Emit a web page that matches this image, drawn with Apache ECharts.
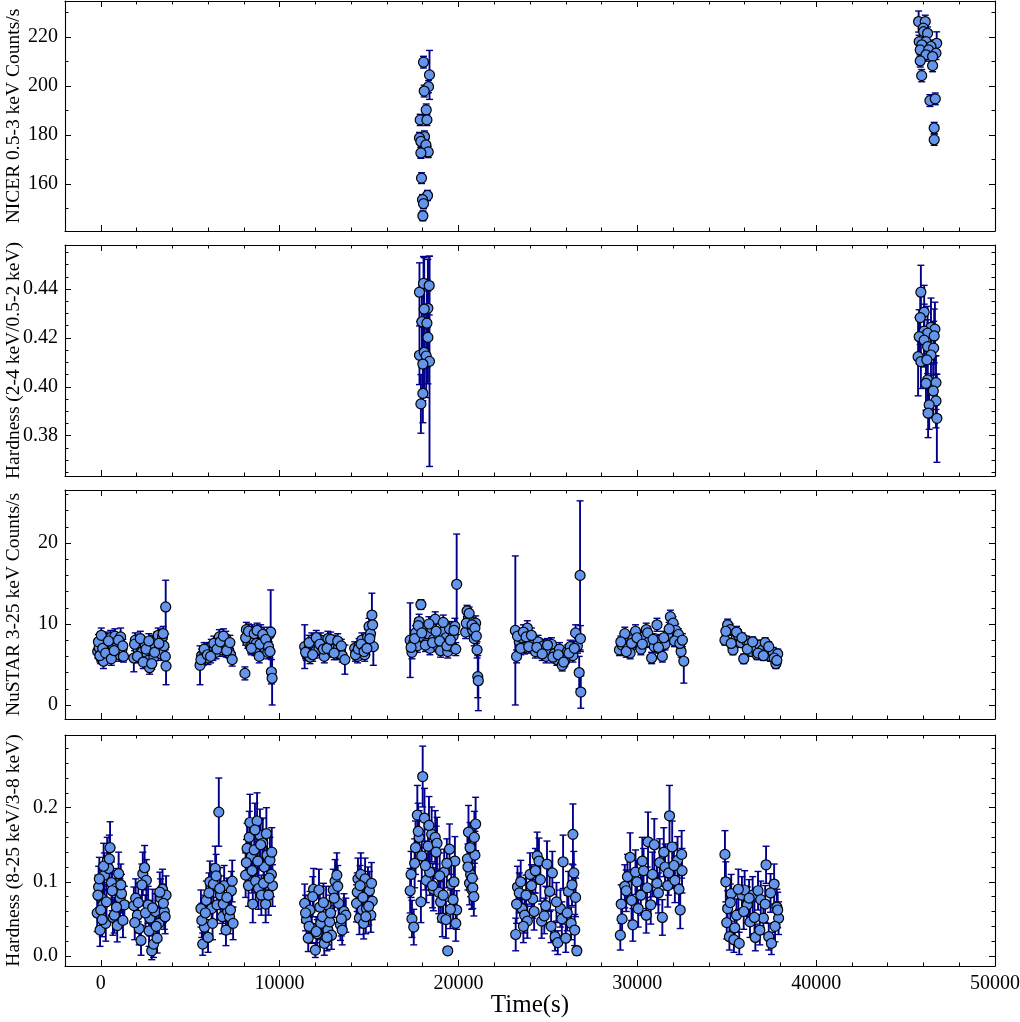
<!DOCTYPE html>
<html><head><meta charset="utf-8">
<script src="https://cdn.jsdelivr.net/npm/echarts@6/dist/echarts.min.js"></script>
<style>html,body{margin:0;padding:0;background:#fff}#c{width:1020px;height:1022px}</style>
</head><body><div id="c"></div>
<script>
// ---------------- DATA ----------------
// Panel 1: NICER 0.5-3 keV count rate
const nicerTime = [18046,18380,18325,18085,18197,17860,18236,18100,17820,17900,18180,18310,17900,17935,18270,17990,18046,18010,
  45730,46100,45990,46010,46230,45760,46140,46740,45910,46420,45820,46290,46700,46140,46510,45820,46510,45900,46360,46660,46600,46600];
const nicerRate = [209.8,204.6,199.8,198.0,190.3,186.2,186.2,179.4,178.8,177.4,176.0,173.1,172.7,162.4,155.3,153.6,152.0,147.0,
  226.4,226.4,223.7,222.3,221.6,218.2,218.2,217.5,216.9,216.2,214.8,214.8,213.5,212.8,212.1,210.3,208.4,204.3,194.1,194.8,182.9,178.1];
const nicerRateErr = [2.4,10.0,2.5,2.4,2.4,2.3,2.3,2.3,2.3,2.3,2.3,2.3,2.2,2.2,2.1,2.1,2.1,2.0,
  4.3,2.6,2.6,2.6,2.6,2.6,2.6,4.7,2.6,2.6,2.6,2.6,2.6,2.6,2.6,2.5,2.5,2.5,2.4,2.4,2.3,2.3];

// Panel 2: NICER hardness (2-4 keV / 0.5-2 keV)
const nicerHardTime = [17820,18046,18365,18290,18085,17955,18236,18290,17820,18085,18197,18380,18010,18010,17900,
  45855,46040,45820,46420,46640,46040,46230,45760,46600,46040,46230,46570,46420,45700,45855,46190,46230,46700,46140,46550,46700,46320,46260,46750];
const nicerHard = [0.4387,0.4423,0.4414,0.4321,0.4318,0.4266,0.4260,0.4202,0.4129,0.4141,0.4126,0.4104,0.4093,0.3973,0.3930,
  0.4387,0.4305,0.4283,0.4243,0.4236,0.4228,0.4219,0.4205,0.4208,0.4191,0.4164,0.4158,0.4130,0.4123,0.4103,0.4110,0.4028,0.4017,0.4014,0.3983,0.3942,0.3926,0.3892,0.3871];
const nicerHardErr = [0.012,0.011,0.012,0.020,0.021,0.014,0.018,0.019,0.012,0.016,0.017,0.043,0.015,0.012,0.012,
  0.011,0.011,0.011,0.012,0.011,0.011,0.011,0.011,0.011,0.011,0.011,0.011,0.011,0.016,0.011,0.011,0.011,0.011,0.011,0.011,0.011,0.010,0.010,0.018];

// Panel 3: NuSTAR 3-25 keV count rate
const nustarTime = [
  -170,-90,-10,70,150,230,310,390,470,550,630,710,790,870,950,1030,1110,1190,1270,
  1850,1930,2010,2090,2170,2250,2330,2410,2490,2570,2650,2730,2810,2890,2970,3050,3130,3210,3290,3370,3450,3530,3610,3630,3650,
  5550,5640,5730,5820,5910,6000,6090,6180,6270,6360,6450,6540,6630,6720,6810,6900,6990,7080,7170,7260,7350,
  8060,8140,8220,8300,8380,8460,8540,8620,8700,8780,8860,8940,9020,9100,9180,9260,9340,9420,9500,9540,9580,
  11400,11500,11600,11700,11800,11900,12000,12100,12200,12300,12400,12500,12600,12700,12800,12900,13000,13100,13200,13300,13400,13500,13650,
  14200,14280,14360,14440,14520,14600,14680,14760,14840,14920,15000,15080,15160,15240,
  17300,17400,17500,17600,17700,17800,17900,18000,18100,18200,18300,18400,18500,18600,18700,18800,18900,19000,19100,19200,19300,19400,19500,19600,19700,19800,19900,
  20400,20480,20560,20640,20720,20800,20880,20960,21040,21080,21110,
  23180,23250,23400,23550,23700,23850,24000,24150,24300,24450,24600,24750,24900,25050,25200,25350,25500,25650,25800,25950,26100,26250,26400,26550,26650,26750,26800,26820,26840,
  29000,29150,29300,29450,29600,29750,29900,30050,30200,30350,30500,30650,30800,30950,31100,31250,31400,31550,31700,31850,32000,32150,32300,32450,32600,
  34900,35050,35200,35350,35500,35650,35800,35950,36100,36250,36400,36550,36700,36850,37000,37150,37300,37450,37600,37750,37850];
const nustarRate = [
  6.6,7.1,5.9,6.3,5.4,6.9,8.1,7.3,6.5,8.3,7.6,7.0,8.5,6.8,7.4,6.2,8.4,6.9,6.0,
  5.8,8.0,7.4,6.9,6.2,7.1,6.6,5.9,7.3,6.4,5.5,4.6,6.8,7.7,5.9,7.2,8.1,8.6,7.0,6.3,8.4,7.3,6.0,12.1,4.8,
  4.9,6.1,5.7,6.4,6.9,5.8,6.6,7.2,6.3,7.0,6.5,7.4,8.4,7.1,6.8,7.9,8.2,7.3,6.6,6.2,5.6,
  3.9,9.3,7.8,8.6,7.2,9.0,8.1,6.9,7.6,8.8,6.0,9.0,7.4,8.3,7.0,7.8,6.5,8.7,9.0,4.1,3.3,
  7.2,6.3,6.8,5.9,8.0,7.4,6.6,7.8,6.9,8.0,7.1,6.0,7.6,8.2,7.3,6.7,7.7,7.0,6.4,7.2,6.5,6.1,5.6,
  7.0,6.4,6.0,7.3,6.6,8.0,7.1,6.2,7.6,8.4,9.7,8.8,11.1,7.2,
  8.0,6.5,7.7,8.9,7.3,10.3,12.4,8.4,9.2,7.6,8.8,7.0,9.5,8.1,10.6,7.4,8.6,6.7,9.0,7.9,8.3,6.6,9.4,7.2,8.5,9.7,14.9,
  9.0,11.6,10.7,10.4,9.7,9.2,8.2,10.1,6.8,3.5,3.0,
  9.2,6.0,7.8,8.3,7.1,9.5,8.0,7.4,6.6,7.8,6.9,7.3,6.0,6.8,7.5,6.3,5.6,6.9,4.9,5.5,6.6,7.2,6.1,8.9,7.3,4.0,16.0,8.2,1.6,
  6.8,7.4,8.8,7.0,6.4,8.1,9.1,7.6,6.9,8.4,9.3,7.8,5.8,7.2,9.9,8.0,6.0,7.5,8.6,10.9,10.1,9.2,8.7,6.6,5.4,
  8.0,9.9,9.3,6.8,8.1,8.6,7.7,5.7,7.9,7.5,6.6,7.1,6.2,7.4,6.8,7.7,6.7,6.0,6.5,5.1,6.3];
const nustarRateErr = [
  0.8,0.9,0.8,0.7,0.9,0.8,0.9,0.8,0.8,0.9,0.8,0.8,0.9,0.8,0.8,0.8,1.1,0.8,0.7,
  1.7,0.9,0.8,0.8,0.8,0.8,0.8,0.8,0.9,0.8,0.8,0.8,0.8,0.9,0.8,0.8,0.9,0.9,0.8,0.8,0.9,0.8,0.8,3.3,2.3,
  2.4,0.8,0.8,0.8,0.8,0.8,0.8,0.9,0.8,0.8,0.8,0.9,0.9,0.8,0.8,0.9,0.9,0.8,0.8,0.8,0.8,
  0.8,0.9,0.8,0.9,0.8,0.9,0.9,0.8,0.8,0.9,0.8,0.9,0.8,0.9,0.8,0.8,0.8,0.9,5.2,1.5,3.3,
  2.7,0.8,0.8,0.8,0.9,0.8,0.8,0.9,0.8,0.9,0.8,0.8,0.8,0.9,0.8,0.8,0.9,0.8,0.8,0.8,0.8,0.8,1.8,
  0.8,0.8,0.8,0.9,0.8,0.9,0.8,0.8,0.9,0.9,1.0,0.9,2.7,2.3,
  4.6,0.8,0.8,0.9,0.8,0.9,0.6,0.8,0.9,0.8,0.9,0.8,0.9,0.8,0.9,0.8,0.9,0.8,0.9,0.8,0.9,0.8,0.9,0.8,0.9,1.0,6.2,
  0.8,0.7,0.8,0.8,0.8,0.9,0.9,0.9,1.0,2.6,3.7,
  9.2,0.8,0.8,0.9,0.8,0.9,0.8,0.8,0.8,0.8,0.8,0.8,0.8,0.8,0.8,0.8,0.7,0.8,0.7,0.7,0.8,0.8,0.8,1.0,0.9,2.0,9.2,1.6,2.0,
  0.7,0.7,0.8,0.7,0.7,0.8,0.8,0.7,0.7,0.8,0.8,0.7,0.7,0.7,0.8,0.7,0.7,0.7,0.8,0.8,0.8,0.8,0.7,0.7,2.7,
  0.6,0.7,0.7,0.6,0.6,0.7,0.6,0.6,0.6,0.6,0.6,0.6,0.6,0.6,0.6,0.6,0.6,0.6,0.6,0.6,0.6];
// Panel 3, further bins (same orbits, interleaved times)
const nustarTime2 = [
  -130,-50,30,110,270,430,590,750,990,1230,
  1890,2050,2210,2370,2530,2690,2850,3010,3250,3490,
  5600,5780,5960,6140,6320,6500,6680,6860,7040,7220,
  8100,8260,8420,8580,8740,8900,9060,9220,9380,9460,
  11450,11650,11850,12050,12250,12450,12650,12850,13050,13250,13450,
  14240,14400,14560,14720,14880,15040,15200,
  17350,17550,17750,17950,18150,18350,18550,18750,18950,19150,19350,19550,19750,19850,
  20440,20600,20760,20920,21000,
  23300,23480,23630,23780,23930,24080,24380,24680,24980,25280,25580,25880,26180,26480,
  29080,29380,29680,29980,30280,30580,30880,31180,31480,31780,32080,32380,32520,
  34950,35250,35550,35850,36150,36450,36750,37050,37350,37650,37800];
const nustarRate2 = [
  7.8,6.1,8.6,7.0,6.4,7.9,5.7,6.7,8.0,7.3,
  7.5,6.0,8.2,5.3,6.9,7.9,5.1,6.5,7.6,8.8,
  5.6,6.9,6.2,6.0,7.6,6.9,7.8,8.5,6.7,7.7,
  8.3,9.1,7.0,8.8,9.2,7.5,8.7,8.1,7.2,6.6,
  6.5,7.7,6.2,8.3,7.5,6.9,7.0,8.1,6.4,7.9,7.3,
  6.2,6.9,7.5,6.6,7.0,8.2,9.9,
  7.1,8.2,9.8,8.9,7.4,10.0,7.7,9.1,7.9,10.2,7.3,8.0,9.2,6.9,
  10.1,11.3,9.9,9.5,8.5,
  8.5,7.0,9.0,8.4,7.2,8.6,7.1,6.3,7.4,5.9,6.2,5.3,6.4,7.0,
  7.8,6.6,7.6,8.3,7.5,8.9,8.1,7.1,8.3,9.4,7.9,7.6,8.0,
  9.1,7.6,9.0,8.3,6.9,7.8,6.4,6.1,7.2,5.8,5.5];
const nustarRateErr2 = [
  0.9,0.8,0.9,0.8,0.8,0.9,0.8,0.8,0.9,0.8,
  0.8,0.8,0.9,0.8,0.8,0.9,0.7,0.8,0.9,0.9,
  0.8,0.8,0.8,0.8,0.9,0.8,0.9,0.9,0.8,0.9,
  0.9,0.9,0.8,0.9,0.9,0.8,0.9,0.9,0.8,0.8,
  0.8,0.9,0.8,0.9,0.8,0.8,0.8,0.9,0.8,0.9,0.8,
  0.8,0.8,0.9,0.8,0.8,0.9,1.0,
  0.8,0.9,0.9,0.9,0.8,0.9,0.8,0.9,0.8,0.9,0.8,0.9,0.9,0.8,
  0.8,0.8,0.8,0.9,0.9,
  0.8,0.8,0.9,0.8,0.8,0.9,0.8,0.8,0.8,0.7,0.8,0.7,0.8,0.8,
  0.7,0.7,0.7,0.8,0.7,0.8,0.7,0.7,0.8,0.8,0.7,0.7,0.8,
  0.7,0.6,0.7,0.6,0.6,0.6,0.6,0.6,0.6,0.6,0.6];

// Panel 4: NuSTAR hardness (8-25 keV / 3-8 keV)
const hardTime = [
  -200,-120,-40,40,120,200,280,360,440,520,600,680,760,840,920,1000,1080,1160,1240,1320,
  1850,1950,2050,2150,2250,2350,2450,2550,2650,2750,2850,2950,3050,3150,3250,3350,3450,3550,3650,
  5600,5700,5800,5900,6000,6100,6200,6300,6400,6500,6600,6700,6800,6900,7000,7100,7200,7300,7400,
  8100,8180,8260,8340,8420,8500,8580,8660,8740,8820,8900,8980,9060,9140,9220,9300,9380,9460,9540,9600,
  11400,11500,11600,11700,11800,11900,12000,12100,12200,12300,12400,12500,12600,12700,12800,12900,13000,13100,13200,13300,13400,13500,13600,13700,
  14300,14380,14460,14540,14620,14700,14780,14860,14940,15020,15100,15180,
  17300,17400,17500,17600,17700,17800,17900,18000,18100,18200,18300,18400,18500,18600,18700,18800,18900,19000,19100,19200,19300,19400,19500,19600,19700,19800,19900,
  20500,20560,20620,20680,20740,20800,20860,20920,20960,
  23200,23300,23400,23550,23700,23850,24000,24150,24300,24400,24500,24650,24800,24950,25100,25250,25400,25550,25700,25850,26000,26150,26300,26400,26450,26550,26620,
  29050,29150,29300,29450,29600,29750,29900,30050,30200,30350,30500,30600,30750,30950,31100,31250,31400,31550,31700,31800,31950,32100,32250,32400,32500,
  34900,34950,35050,35150,35250,35400,35550,35700,35850,36000,36150,36300,36450,36600,36750,36900,37050,37200,37350,37500,37650,37800,37900];
const hardVal = [
  0.058,0.093,0.035,0.078,0.069,0.109,0.044,0.128,0.118,0.146,0.099,0.052,0.055,0.091,0.041,0.111,0.078,0.084,0.048,0.069,
  0.068,0.078,0.055,0.037,0.021,0.111,0.119,0.102,0.069,0.051,0.007,0.016,0.060,0.024,0.044,0.078,0.090,0.060,0.082,
  0.064,0.016,0.039,0.075,0.025,0.100,0.064,0.097,0.118,0.069,0.194,0.082,0.053,0.095,0.035,0.060,0.053,0.088,0.044,
  0.109,0.145,0.095,0.180,0.134,0.070,0.143,0.101,0.182,0.091,0.163,0.082,0.152,0.120,0.070,0.136,0.082,0.129,0.110,0.095,
  0.071,0.049,0.024,0.062,0.038,0.090,0.008,0.030,0.089,0.044,0.053,0.017,0.069,0.035,0.046,0.028,0.089,0.101,0.109,0.071,0.042,0.035,0.060,0.055,
  0.071,0.104,0.051,0.110,0.062,0.044,0.104,0.064,0.093,0.088,0.055,0.074,
  0.088,0.050,0.039,0.146,0.190,0.160,0.073,0.242,0.186,0.102,0.148,0.113,0.164,0.090,0.160,0.152,0.086,0.073,0.051,0.113,0.049,0.007,0.144,0.097,0.076,0.128,0.062,
  0.131,0.167,0.098,0.110,0.090,0.092,0.080,0.136,0.178,
  0.029,0.093,0.085,0.064,0.055,0.047,0.110,0.077,0.115,0.135,0.128,0.047,0.054,0.124,0.087,0.112,0.026,0.018,0.064,0.127,0.024,0.087,0.044,0.164,0.112,0.079,0.007,
  0.028,0.050,0.094,0.107,0.133,0.042,0.113,0.064,0.082,0.115,0.055,0.154,0.069,0.150,0.098,0.126,0.052,0.120,0.095,0.189,0.147,0.102,0.129,0.062,0.115,
  0.137,0.100,0.064,0.026,0.084,0.022,0.055,0.017,0.082,0.089,0.069,0.046,0.082,0.025,0.088,0.076,0.051,0.123,0.026,0.017,0.097,0.066,0.051];
const hardErr = [
  0.025,0.028,0.022,0.026,0.025,0.030,0.024,0.032,0.030,0.035,0.028,0.024,0.024,0.027,0.022,0.029,0.026,0.026,0.023,0.025,
  0.025,0.026,0.024,0.022,0.020,0.029,0.030,0.028,0.025,0.024,0.012,0.018,0.024,0.020,0.023,0.026,0.027,0.024,0.026,
  0.025,0.015,0.022,0.026,0.020,0.028,0.024,0.027,0.030,0.025,0.046,0.026,0.023,0.027,0.021,0.024,0.023,0.026,0.022,
  0.030,0.034,0.028,0.038,0.032,0.025,0.033,0.029,0.038,0.028,0.035,0.027,0.034,0.031,0.025,0.032,0.027,0.031,0.030,0.028,
  0.026,0.023,0.018,0.025,0.021,0.028,0.010,0.019,0.028,0.022,0.023,0.016,0.025,0.020,0.022,0.019,0.028,0.029,0.030,0.026,0.021,0.020,0.024,0.023,
  0.025,0.028,0.022,0.029,0.024,0.021,0.028,0.024,0.027,0.026,0.023,0.025,
  0.030,0.025,0.024,0.036,0.040,0.036,0.028,0.041,0.040,0.030,0.035,0.031,0.037,0.029,0.036,0.035,0.029,0.027,0.025,0.031,0.025,0.005,0.034,0.030,0.028,0.033,0.026,
  0.032,0.036,0.029,0.030,0.027,0.028,0.026,0.032,0.036,
  0.022,0.028,0.027,0.025,0.024,0.023,0.029,0.026,0.030,0.032,0.031,0.023,0.024,0.031,0.027,0.029,0.019,0.016,0.025,0.036,0.019,0.027,0.022,0.041,0.029,0.026,0.006,
  0.020,0.024,0.029,0.030,0.033,0.022,0.030,0.025,0.027,0.030,0.024,0.040,0.026,0.035,0.029,0.032,0.024,0.031,0.029,0.041,0.035,0.030,0.032,0.025,0.030,
  0.032,0.027,0.024,0.018,0.026,0.017,0.022,0.015,0.025,0.026,0.024,0.021,0.025,0.018,0.026,0.025,0.022,0.025,0.018,0.015,0.027,0.024,0.022];
// Panel 4, further bins
const hardTime2 = [
  -160,-80,0,80,160,320,480,640,880,1120,
  1900,2100,2300,2500,2700,2900,3100,3300,3500,3600,
  5650,5850,6050,6250,6450,6650,6850,7050,7250,7350,
  8140,8300,8460,8620,8780,8940,9100,9260,9420,9560,
  11450,11650,11850,12050,12250,12450,12650,12850,13050,13250,13450,
  14340,14500,14660,14820,14980,15140,
  17350,17550,17750,17950,18150,18350,18550,18750,18950,19150,19350,19550,19750,19850,
  20530,20650,20770,20890,
  23250,23480,23630,23780,24080,24230,24580,24880,25180,25480,25780,26080,26350,26500,
  29100,29380,29680,29980,30280,30550,30850,31180,31480,31750,32050,32330,32480,
  35000,35200,35450,35650,35950,36250,36550,36850,37150,37450,37700,37850];
const hardVal2 = [
  0.082,0.104,0.062,0.049,0.121,0.073,0.131,0.088,0.066,0.096,
  0.045,0.072,0.096,0.058,0.034,0.065,0.040,0.086,0.071,0.053,
  0.048,0.058,0.085,0.044,0.108,0.091,0.070,0.079,0.062,0.101,
  0.126,0.160,0.115,0.170,0.128,0.150,0.098,0.165,0.105,0.140,
  0.058,0.040,0.080,0.033,0.066,0.072,0.025,0.058,0.078,0.094,0.050,
  0.086,0.095,0.079,0.053,0.067,0.098,
  0.110,0.125,0.168,0.135,0.122,0.176,0.095,0.140,0.108,0.082,0.125,0.063,0.100,0.044,
  0.120,0.146,0.105,0.160,
  0.070,0.100,0.040,0.082,0.095,0.060,0.103,0.068,0.040,0.073,0.050,0.058,0.096,0.035,
  0.070,0.088,0.075,0.100,0.128,0.092,0.110,0.085,0.140,0.112,0.122,0.090,0.137,
  0.045,0.072,0.038,0.090,0.060,0.078,0.052,0.035,0.070,0.085,0.040,0.062];
const hardErr2 = [
  0.027,0.029,0.025,0.023,0.031,0.026,0.032,0.027,0.025,0.028,
  0.023,0.026,0.028,0.024,0.021,0.025,0.022,0.027,0.026,0.023,
  0.023,0.024,0.027,0.022,0.029,0.028,0.026,0.026,0.024,0.028,
  0.031,0.035,0.030,0.036,0.031,0.034,0.029,0.035,0.029,0.033,
  0.024,0.021,0.027,0.020,0.025,0.026,0.018,0.024,0.026,0.028,0.023,
  0.026,0.027,0.026,0.023,0.025,0.028,
  0.031,0.033,0.038,0.034,0.033,0.039,0.030,0.035,0.031,0.028,0.033,0.026,0.030,0.024,
  0.031,0.034,0.030,0.035,
  0.026,0.029,0.022,0.027,0.028,0.025,0.029,0.026,0.022,0.026,0.023,0.024,0.028,0.021,
  0.026,0.028,0.027,0.029,0.032,0.028,0.030,0.027,0.033,0.030,0.031,0.028,0.032,
  0.022,0.025,0.020,0.027,0.024,0.025,0.022,0.020,0.025,0.026,0.021,0.024];

// Tick values
const xMajorTicks = [0,10000,20000,30000,40000,50000];
const xMinorTicks = [2000,4000,6000,8000,12000,14000,16000,18000,22000,24000,26000,28000,32000,34000,36000,38000,42000,44000,46000,48000];
const p1Major = [160,180,200,220];
const p1Minor = [150,170,190,210,230];
const p2Major = [0.38,0.40,0.42,0.44];
const p2Minor = [0.365,0.37,0.375,0.385,0.39,0.395,0.405,0.41,0.415,0.425,0.43,0.435,0.445,0.45,0.455];
const p3Major = [0,10,20];
const p3Minor = [2,4,6,8,12,14,16,18,22,24,26];
const p4Major = [0,0.1,0.2];
const p4Minor = [0.02,0.04,0.06,0.08,0.12,0.14,0.16,0.18,0.22,0.24,0.26,0.28];

const panelNames = ['NICER 0.5-3 keV Counts/s','Hardness (2-4 keV/0.5-2 keV)','NuSTAR 3-25 keV Counts/s','Hardness (8-25 keV/3-8 keV)'];
const xName = 'Time(s)';

// ---------------- LAYOUT / STYLE ----------------
const FONT = 'Liberation Serif';
const grids = [
  {left:65, right:25, top:1, height:230, outerBoundsMode:'none', containLabel:false},
  {left:65, right:25, top:245, height:231, outerBoundsMode:'none', containLabel:false},
  {left:65, right:25, top:490, height:229, outerBoundsMode:'none', containLabel:false},
  {left:65, right:25, top:735, height:231, outerBoundsMode:'none', containLabel:false}
];
const yRanges = [[140.8,234.8],[0.3635,0.458],[-1.73,26.54],[-0.0135,0.298]];
const yMajor = [p1Major,p2Major,p3Major,p4Major];
const yMinor = [p1Minor,p2Minor,p3Minor,p4Minor];
const yFmt = [v=>String(v), v=>v.toFixed(2), v=>String(v), v=>v.toFixed(1)];

const xAxes = [], yAxes = [];
function makeAxis(list, g, pos, min, max, ticks, len, opt) {
  const a = {
    type:'value', gridIndex:g, position:pos, min:min, max:max,
    axisLine:{show:!!opt.line, onZero:false, lineStyle:{color:'#000', width:1.1}},
    axisTick:{show:true, inside:true, length:len, customValues:ticks, lineStyle:{color:'#000', width:1}},
    axisLabel:{show:false},
    splitLine:{show:false}, minorTick:{show:false}, minorSplitLine:{show:false}
  };
  if (opt.labels) {
    a.axisLabel = {show:true, customValues:opt.labels, formatter:opt.fmt, color:'#000',
      fontFamily:FONT, fontSize:20, margin:opt.margin || 7};
  }
  if (opt.name) {
    a.name = opt.name; a.nameLocation = 'middle'; a.nameGap = opt.nameGap;
    a.nameMoveOverlap = false;
    a.nameTextStyle = {fontFamily:FONT, fontSize:opt.nameSize, color:'#000'};
    if (opt.rotate !== undefined) a.nameRotate = opt.rotate;
  }
  list.push(a);
  return list.length - 1;
}

const series = [];
function errRender(params, api) {
  const x = api.value(0), y = api.value(1), e = api.value(2);
  const t = api.coord([x, y + e]), b = api.coord([x, y - e]);
  const c = 3.5, col = '#00008B';
  return {type:'group', children:[
    {type:'line', shape:{x1:t[0], y1:t[1], x2:b[0], y2:b[1]}, style:{stroke:col, lineWidth:1.9}},
    {type:'line', shape:{x1:t[0]-c, y1:t[1], x2:t[0]+c, y2:t[1]}, style:{stroke:col, lineWidth:1.4}},
    {type:'line', shape:{x1:b[0]-c, y1:b[1], x2:b[0]+c, y2:b[1]}, style:{stroke:col, lineWidth:1.4}}
  ]};
}

const panels = [
  [nicerTime, nicerRate, nicerRateErr],
  [nicerHardTime, nicerHard, nicerHardErr],
  [nustarTime.concat(nustarTime2), nustarRate.concat(nustarRate2), nustarRateErr.concat(nustarRateErr2)],
  [hardTime.concat(hardTime2), hardVal.concat(hardVal2), hardErr.concat(hardErr2)]
];

for (let g = 0; g < 4; g++) {
  const last = g === 3;
  const xi = makeAxis(xAxes, g, 'bottom', -2000, 50000, xMajorTicks, 6,
    last ? {line:true, labels:xMajorTicks, fmt:v=>String(v), name:xName, nameGap:27, nameSize:25, margin:8} : {line:true});
  makeAxis(xAxes, g, 'bottom', -2000, 50000, xMinorTicks, 3.5, {});
  makeAxis(xAxes, g, 'top', -2000, 50000, xMajorTicks, 6, {line:true});
  makeAxis(xAxes, g, 'top', -2000, 50000, xMinorTicks, 3.5, {});
  const [ymin, ymax] = yRanges[g];
  const yi = makeAxis(yAxes, g, 'left', ymin, ymax, yMajor[g], 6,
    {line:true, labels:yMajor[g], fmt:yFmt[g], name:panelNames[g], nameGap:41, nameSize:19.5, rotate:90});
  makeAxis(yAxes, g, 'left', ymin, ymax, yMinor[g], 3.5, {});
  makeAxis(yAxes, g, 'right', ymin, ymax, yMajor[g], 6, {line:true});
  makeAxis(yAxes, g, 'right', ymin, ymax, yMinor[g], 3.5, {});

  const [T, V, E] = panels[g];
  series.push({
    type:'custom', xAxisIndex:xi, yAxisIndex:yi, renderItem:errRender,
    encode:{x:0, y:1}, z:2, silent:true,
    data:T.map((t,i)=>[t, V[i], E[i]])
  });
  series.push({
    type:'scatter', xAxisIndex:xi, yAxisIndex:yi, symbol:'circle', symbolSize:10, z:3, silent:true,
    itemStyle:{color:'#6495ED', borderColor:'#000', borderWidth:1.2, opacity:1},
    data:T.map((t,i)=>[t, V[i]])
  });
}

const chart = echarts.init(document.getElementById('c'), null, {renderer:'canvas'});
chart.setOption({
  backgroundColor:'#fff',
  animation:false,
  grid:grids,
  xAxis:xAxes,
  yAxis:yAxes,
  series:series
});
</script>
</body></html>
